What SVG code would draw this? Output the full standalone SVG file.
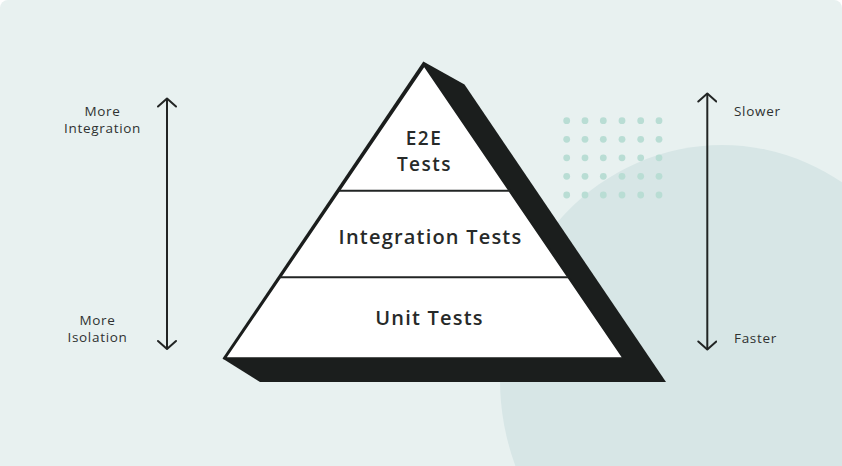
<svg xmlns="http://www.w3.org/2000/svg" width="842" height="466" viewBox="0 0 842 466">
  <defs>
    <clipPath id="bgclip">
      <rect x="0" y="0" width="842" height="490" rx="8" ry="8"/>
    </clipPath>
    <marker id="chev" viewBox="0 0 12 20" markerWidth="12" markerHeight="20" refX="10" refY="10" orient="auto-start-reverse" markerUnits="userSpaceOnUse">
      <path d="M2,1 L10,10 L2,19" fill="none" stroke="#222524" stroke-width="2" stroke-linecap="round" stroke-linejoin="round"/>
    </marker>
  </defs>
  <style>
    .side { font-family: "Open Sans", "Liberation Sans", sans-serif; font-size: 13.5px; letter-spacing: 0.7px; fill: #2f3231; }
    .lbl { font-family: "Open Sans", "Liberation Sans", sans-serif; font-size: 20px; font-weight: 600; letter-spacing: 1.2px; fill: #272a29; text-anchor: middle; }
    .lbl-top { font-size: 19px; letter-spacing: 1.5px; }
    .arrow { stroke: #222524; stroke-width: 2; fill: none; }
    .dot { fill: #b9ddd4; }
    .div { stroke: #222524; stroke-width: 2; }
  </style>

  <g id="background" clip-path="url(#bgclip)">
    <rect x="0" y="0" width="842" height="490" fill="#e8f1f0"/>
    <ellipse cx="722" cy="380" rx="222" ry="235" fill="#d7e6e6"/>
  </g>

  <g id="dots">
    <circle class="dot" cx="566.7" cy="120.7" r="3.4"/><circle class="dot" cx="585" cy="120.7" r="3.4"/><circle class="dot" cx="603.3" cy="120.7" r="3.4"/><circle class="dot" cx="622" cy="120.7" r="3.4"/><circle class="dot" cx="640.7" cy="120.7" r="3.4"/><circle class="dot" cx="659" cy="120.7" r="3.4"/>
    <circle class="dot" cx="566.7" cy="139.3" r="3.4"/><circle class="dot" cx="585" cy="139.3" r="3.4"/><circle class="dot" cx="603.3" cy="139.3" r="3.4"/><circle class="dot" cx="622" cy="139.3" r="3.4"/><circle class="dot" cx="640.7" cy="139.3" r="3.4"/><circle class="dot" cx="659" cy="139.3" r="3.4"/>
    <circle class="dot" cx="566.7" cy="157.8" r="3.4"/><circle class="dot" cx="585" cy="157.8" r="3.4"/><circle class="dot" cx="603.3" cy="157.8" r="3.4"/><circle class="dot" cx="622" cy="157.8" r="3.4"/><circle class="dot" cx="640.7" cy="157.8" r="3.4"/><circle class="dot" cx="659" cy="157.8" r="3.4"/>
    <circle class="dot" cx="566.7" cy="176.3" r="3.4"/><circle class="dot" cx="585" cy="176.3" r="3.4"/><circle class="dot" cx="603.3" cy="176.3" r="3.4"/><circle class="dot" cx="622" cy="176.3" r="3.4"/><circle class="dot" cx="640.7" cy="176.3" r="3.4"/><circle class="dot" cx="659" cy="176.3" r="3.4"/>
    <circle class="dot" cx="566.7" cy="195" r="3.4"/><circle class="dot" cx="585" cy="195" r="3.4"/><circle class="dot" cx="603.3" cy="195" r="3.4"/><circle class="dot" cx="622" cy="195" r="3.4"/><circle class="dot" cx="640.7" cy="195" r="3.4"/><circle class="dot" cx="659" cy="195" r="3.4"/>
  </g>

  <g id="pyramid">
    <polygon points="423.3,61.5 464.5,84.5 666,382 260,382 222.5,358.5" fill="#1b1e1d"/>
    <polygon points="424.2,65.5 225,358.3 623.5,358.3" fill="#ffffff" stroke="#1b1e1d" stroke-width="2" stroke-linejoin="miter"/>
  </g>

  <g id="connectors">
    <line class="div" x1="339" y1="190.7" x2="510" y2="190.7"/>
    <line class="div" x1="280" y1="277.3" x2="568.5" y2="277.3"/>
    <line class="arrow" x1="167" y1="349" x2="167" y2="98.5" marker-start="url(#chev)" marker-end="url(#chev)"/>
    <line class="arrow" x1="707.3" y1="349.5" x2="707.3" y2="93.5" marker-start="url(#chev)" marker-end="url(#chev)"/>
  </g>

  <g id="node-e2e">
    <text class="lbl lbl-top"><tspan x="424" y="144.5">E2E</tspan><tspan x="424.5" y="170.5">Tests</tspan></text>
  </g>
  <g id="node-integration">
    <text class="lbl" x="430.5" y="243.5">Integration Tests</text>
  </g>
  <g id="node-unit">
    <text class="lbl" x="429.5" y="325">Unit Tests</text>
  </g>

  <g id="label-more-integration">
    <text class="side" text-anchor="middle"><tspan x="102.5" y="116">More</tspan><tspan x="102.5" y="133">Integration</tspan></text>
  </g>
  <g id="label-more-isolation">
    <text class="side" text-anchor="middle"><tspan x="97.5" y="324.5">More</tspan><tspan x="97.5" y="341.5">Isolation</tspan></text>
  </g>
  <g id="label-slower">
    <text class="side" x="734" y="116">Slower</text>
  </g>
  <g id="label-faster">
    <text class="side" x="734" y="343">Faster</text>
  </g>
</svg>
